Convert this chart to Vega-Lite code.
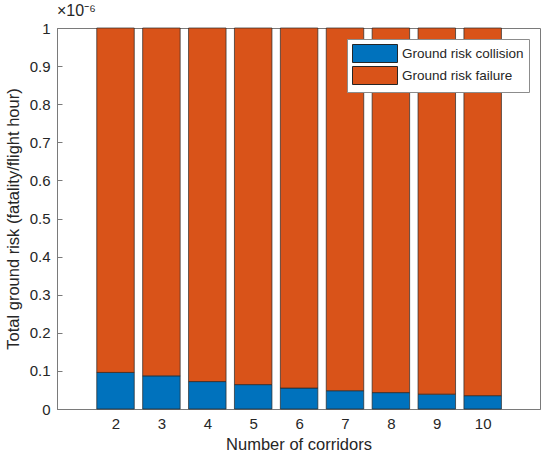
{
  "$schema": "https://vega.github.io/schema/vega-lite/v6.json",
  "description": "Total ground risk by number of corridors",
  "autosize": "none",
  "padding": {"left": 57, "top": 28, "right": 10, "bottom": 57},
  "width": 483,
  "height": 381,
  "title": {
    "text": "×10⁻⁶",
    "anchor": "start",
    "frame": "group",
    "offset": 2,
    "font": "Liberation Sans",
    "fontSize": 16,
    "fontWeight": "normal",
    "color": "#262626"
  },
  "data": {
    "values": [
      {"corridors": 2, "series": "Ground risk collision", "risk": 0.096},
      {"corridors": 3, "series": "Ground risk collision", "risk": 0.087},
      {"corridors": 4, "series": "Ground risk collision", "risk": 0.072},
      {"corridors": 5, "series": "Ground risk collision", "risk": 0.064},
      {"corridors": 6, "series": "Ground risk collision", "risk": 0.055},
      {"corridors": 7, "series": "Ground risk collision", "risk": 0.048},
      {"corridors": 8, "series": "Ground risk collision", "risk": 0.043},
      {"corridors": 9, "series": "Ground risk collision", "risk": 0.039},
      {"corridors": 10, "series": "Ground risk collision", "risk": 0.035},
      {"corridors": 2, "series": "Ground risk failure", "risk": 0.904},
      {"corridors": 3, "series": "Ground risk failure", "risk": 0.913},
      {"corridors": 4, "series": "Ground risk failure", "risk": 0.928},
      {"corridors": 5, "series": "Ground risk failure", "risk": 0.936},
      {"corridors": 6, "series": "Ground risk failure", "risk": 0.945},
      {"corridors": 7, "series": "Ground risk failure", "risk": 0.952},
      {"corridors": 8, "series": "Ground risk failure", "risk": 0.957},
      {"corridors": 9, "series": "Ground risk failure", "risk": 0.961},
      {"corridors": 10, "series": "Ground risk failure", "risk": 0.965}
    ]
  },
  "mark": {"type": "bar", "size": 37.5, "stroke": "#262626", "strokeWidth": 0.7},
  "encoding": {
    "x": {
      "field": "corridors",
      "type": "quantitative",
      "title": "Number of corridors",
      "scale": {"domain": [0.834, 11.14], "nice": false, "zero": false},
      "axis": {"values": [2, 3, 4, 5, 6, 7, 8, 9, 10], "format": "d", "titlePadding": 5}
    },
    "y": {
      "field": "risk",
      "type": "quantitative",
      "aggregate": "sum",
      "stack": "zero",
      "title": "Total ground risk (fatality/flight hour)",
      "scale": {"domain": [0, 1], "nice": false},
      "axis": {"values": [0, 0.1, 0.2, 0.3, 0.4, 0.5, 0.6, 0.7, 0.8, 0.9, 1], "format": "~g", "titlePadding": 8}
    },
    "color": {
      "field": "series",
      "type": "nominal",
      "scale": {"range": ["#0072BD", "#D95319"]},
      "legend": {
        "title": null,
        "orient": "top-right",
        "offset": 11,
        "fillColor": "white",
        "strokeColor": "#8c8c8c",
        "padding": 5,
        "rowPadding": -1,
        "labelOffset": 31,
        "labelFontSize": 13.5,
        "labelColor": "#262626",
        "labelFont": "Liberation Sans",
        "symbolType": "M-1,-1H4V1H-1Z",
        "symbolSize": 324,
        "symbolOpacity": 1,
        "symbolStrokeColor": "#262626",
        "symbolStrokeWidth": 1
      }
    },
    "order": {"field": "series"}
  },
  "config": {
    "font": "Liberation Sans",
    "view": {"stroke": "#7a7a7a", "strokeWidth": 1},
    "axis": {
      "grid": false,
      "domainColor": "#7a7a7a",
      "tickColor": "#7a7a7a",
      "tickSize": -5,
      "labelPadding": 12,
      "labelFontSize": 15,
      "labelColor": "#262626",
      "titleFontSize": 16.5,
      "titleFontWeight": "normal",
      "titleColor": "#262626"
    }
  }
}
